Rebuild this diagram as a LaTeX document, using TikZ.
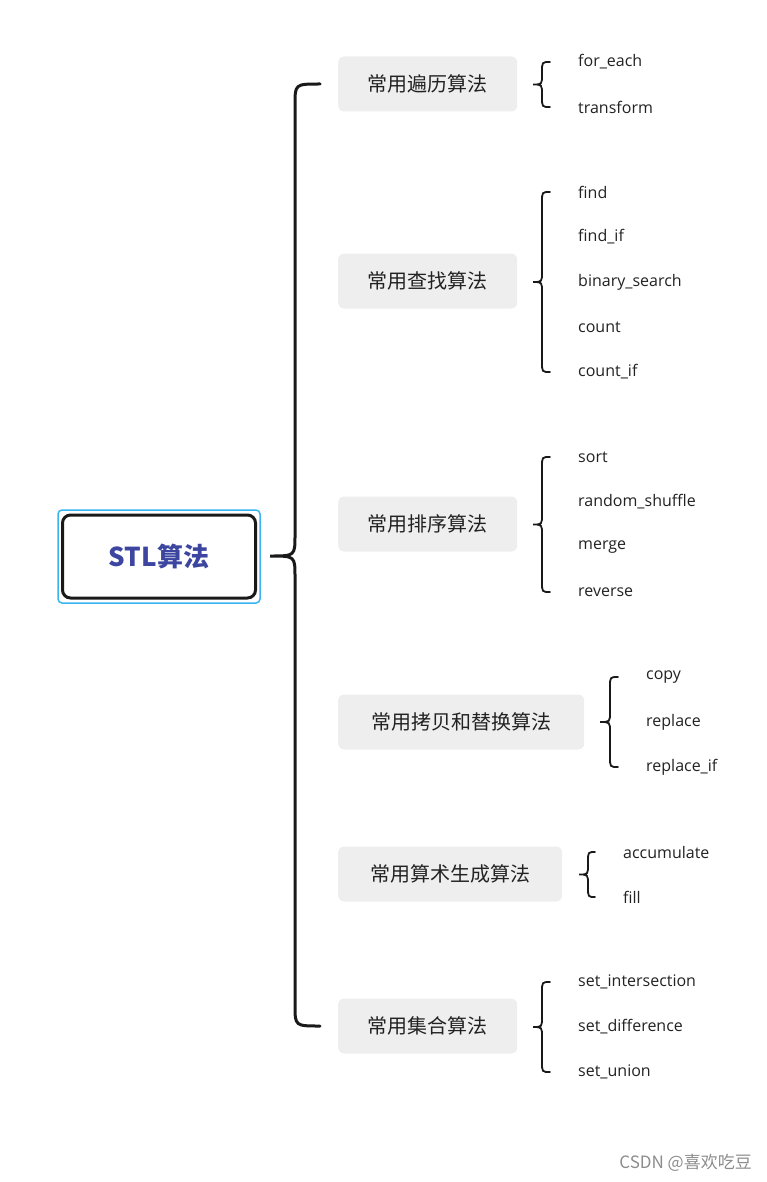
\documentclass[tikz,border=0pt]{standalone}
\usepackage{fontspec}
\setmainfont{Open Sans}
\newfontfamily\cjk{Noto Sans CJK SC}
\definecolor{boxgray}{HTML}{EEEEEE}
\definecolor{rootblue}{HTML}{3C46A0}
\definecolor{skyblue}{HTML}{3AB4F0}
\definecolor{txt}{HTML}{222222}
\newcommand\brc[5]{% xend, xline, xtip, ytop, ybot
  \pgfmathsetmacro\ymid{(#4+#5)/2}
  \draw[bracel] (#1,#4) .. controls (#2,#4) .. (#2,#4+10) -- (#2,\ymid-10) .. controls (#2,\ymid) .. (#3,\ymid)
     .. controls (#2,\ymid) .. (#2,\ymid+10) -- (#2,#5-10) .. controls (#2,#5) .. (#1,#5);}
\begin{document}
\begin{tikzpicture}[x=1pt,y=-1pt,
  cat/.style={fill=boxgray,rounded corners=6pt,minimum height=55pt,inner xsep=23pt,anchor=west,font=\cjk\fontsize{20}{24}\selectfont,text=txt},
  item/.style={anchor=west,font=\fontsize{16}{20}\selectfont,text=txt,inner sep=0pt},
  bracel/.style={line width=1.8pt,line cap=round,color=black!90}]
\useasboundingbox (0,0) rectangle (767,1182);
\draw[skyblue,line width=1.5pt,rounded corners=4pt] (58,510) rectangle (260,603);
\node[draw=black!90,line width=3pt,rounded corners=8pt,minimum width=193pt,minimum height=83pt,font=\cjk\bfseries\fontsize{26}{30}\selectfont,text=rootblue] (root) at (159,556.5) {STL算法};
\draw[line width=3pt,line cap=round,black!90] (320,84) .. controls (295,84) .. (295,105) -- (295,535) .. controls (295,556) .. (270,556)
  .. controls (295,556) .. (295,577) -- (295,1005) .. controls (295,1026) .. (320,1026);
\node[cat,minimum width=179pt] (c1) at (338,84) {常用遍历算法};
\node[cat,minimum width=179pt] (c2) at (338,281) {常用查找算法};
\node[cat,minimum width=179pt] (c3) at (338,524) {常用排序算法};
\node[cat,minimum width=246pt] (c4) at (338,722) {常用拷贝和替换算法};
\node[cat,minimum width=224pt] (c5) at (338,874) {常用算术生成算法};
\node[cat,minimum width=179pt] (c6) at (338,1026) {常用集合算法};
\brc{550}{542}{533}{62}{107}
\brc{550}{542}{533}{192}{372}
\brc{550}{542}{533}{457}{592}
\brc{618}{610}{600}{677}{767}
\brc{595}{588}{579}{852}{897}
\brc{550}{542}{533}{982}{1072}
\node[item] (a1) at (578,62) {for\_each};
\node[item] (a2) at (578,107) {transform};
\node[item] (b1) at (578,192) {find};
\node[item] (b2) at (578,237) {find\_if};
\node[item] (b3) at (578,282) {binary\_search};
\node[item] (b4) at (578,327) {count};
\node[item] (b5) at (578,372) {count\_if};
\node[item] (d1) at (578,457) {sort};
\node[item] (d2) at (578,502) {random\_shuffle};
\node[item] (d3) at (578,547) {merge};
\node[item] (d4) at (578,592) {reverse};
\node[item] (e1) at (646,677) {copy};
\node[item] (e2) at (646,722) {replace};
\node[item] (e3) at (646,767) {replace\_if};
\node[item] (f1) at (623,852) {accumulate};
\node[item] (f2) at (623,897) {fill};
\node[item] (g1) at (578,982) {set\_intersection};
\node[item] (g2) at (578,1027) {set\_difference};
\node[item] (g3) at (578,1072) {set\_union};
\node[anchor=east,inner sep=0pt,font=\cjk\fontsize{17}{20}\selectfont,text=black!45] (wm) at (752,1163) {CSDN @喜欢吃豆};
\end{tikzpicture}
\end{document}
